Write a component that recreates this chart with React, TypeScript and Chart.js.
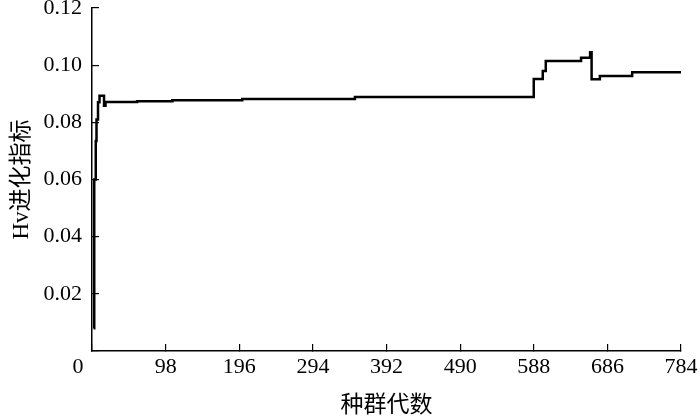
import { useEffect, useRef } from "react"
import { Chart, registerables } from "chart.js"

Chart.register(...registerables)

// generation where the indicator changes, and the new value from that generation on
const generations = [2, 3, 5, 6, 8, 10, 16, 18, 60, 107, 200, 350, 588, 600, 604, 651, 663, 665, 676, 719, 790]
const hvValues = [
  0.008, 0.06, 0.0735, 0.081, 0.087, 0.0893, 0.0858, 0.0871, 0.0874, 0.0877, 0.0882, 0.0889,
  0.0952, 0.098, 0.1015, 0.1026, 0.1045, 0.0951, 0.0962, 0.0975, 0.0975,
]

const xTicks = [0, 98, 196, 294, 392, 490, 588, 686, 784]
const yTicks = [0, 0.02, 0.04, 0.06, 0.08, 0.1, 0.12]

const xTitle = "种群代数"
const yTitle = "Hv进化指标"

const FONT = "'Liberation Serif', 'Noto Sans CJK SC', serif"

export default function App() {
  const chartRef = useRef<HTMLCanvasElement>(null)
  const chartInstance = useRef<Chart | null>(null)

  useEffect(() => {
    if (!chartRef.current) return
    if (chartInstance.current) chartInstance.current.destroy()

    const ctx = chartRef.current.getContext("2d")
    if (!ctx) return

    // shared origin label, drawn a little left of the corner as in the figure
    const originLabel = {
      id: "originLabel",
      afterDraw(chart: Chart) {
        const x = chart.scales.x
        const c = chart.ctx
        c.save()
        c.font = `22px ${FONT}`
        c.fillStyle = "#000"
        c.textAlign = "center"
        c.textBaseline = "middle"
        c.fillText("0", x.getPixelForValue(0) - 14, x.top + 16)
        c.restore()
      },
    }

    chartInstance.current = new Chart(ctx, {
      type: "line",
      data: {
        datasets: [
          {
            data: generations.map((g, i) => ({ x: g, y: hvValues[i] })),
            borderColor: "#000",
            borderWidth: 2.5,
            pointRadius: 0,
            stepped: "before",
            fill: false,
          },
        ],
      },
      options: {
        responsive: false,
        animation: false,
        layout: { padding: { top: 8, right: 19, left: 0, bottom: 0 } },
        plugins: {
          legend: { display: false },
          tooltip: { enabled: false },
        },
        scales: {
          x: {
            type: "linear",
            min: 0,
            max: 784,
            afterBuildTicks: (scale) => {
              scale.ticks = xTicks.map((v) => ({ value: v }))
            },
            afterFit: (scale) => {
              scale.height = 66
              scale.paddingLeft = 0
              scale.paddingRight = 0
            },
            border: { color: "#000", width: 1.5 },
            grid: { drawOnChartArea: false, drawTicks: true, tickLength: -7, color: "#000", lineWidth: 1.2 },
            ticks: {
              color: "#000",
              padding: 10,
              maxRotation: 0,
              font: { family: FONT, size: 22 },
              callback: (v) => (Number(v) === 0 ? "" : String(v)),
            },
            title: {
              display: true,
              text: xTitle,
              color: "#000",
              font: { family: FONT, size: 23, lineHeight: 1 },
              padding: { top: 0, bottom: 0 },
            },
          },
          y: {
            min: 0,
            max: 0.12,
            afterBuildTicks: (scale) => {
              scale.ticks = yTicks.map((v) => ({ value: v }))
            },
            afterFit: (scale) => {
              scale.width = 92
              scale.paddingTop = 0
              scale.paddingBottom = 0
            },
            border: { color: "#000", width: 1.5 },
            grid: { drawOnChartArea: false, drawTicks: true, tickLength: -7, color: "#000", lineWidth: 1.2 },
            ticks: {
              color: "#000",
              padding: 17,
              font: { family: FONT, size: 22 },
              callback: (v) => (Number(v) === 0 ? "" : Number(v).toFixed(2)),
            },
            title: {
              display: true,
              text: yTitle,
              color: "#000",
              font: { family: FONT, size: 23, lineHeight: 1 },
              padding: { top: 10, bottom: 0 },
            },
          },
        },
      },
      plugins: [originLabel],
    })

    return () => {
      if (chartInstance.current) {
        chartInstance.current.destroy()
        chartInstance.current = null
      }
    }
  }, [])

  return (
    <div style={{ position: "fixed", left: 0, top: 0, width: 700, height: 417, background: "#fff" }}>
      <canvas ref={chartRef} width={700} height={417} style={{ width: 700, height: 417 }} />
    </div>
  )
}
